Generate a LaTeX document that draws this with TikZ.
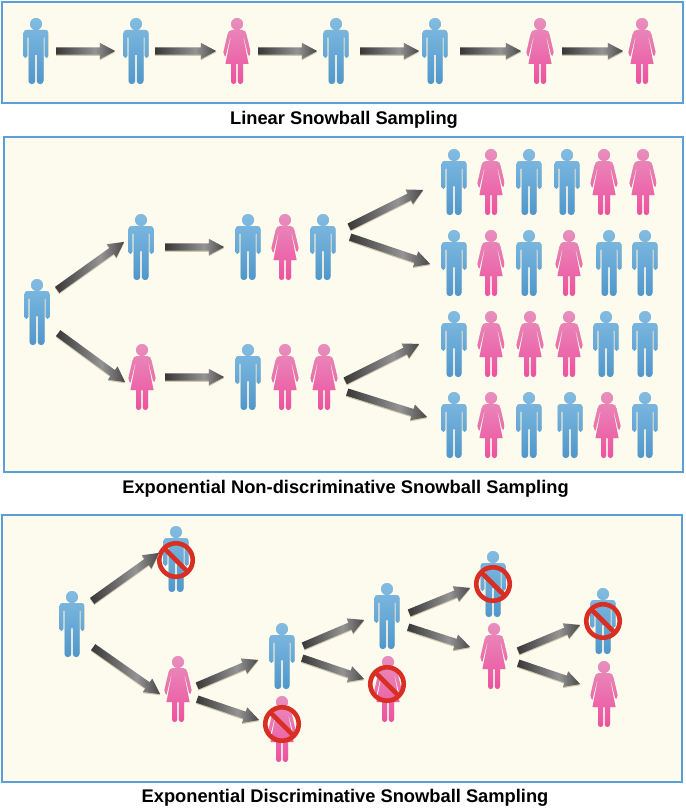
\documentclass[tikz,border=0pt]{standalone}
\usepackage{fontspec}
\setmainfont{Liberation Sans}
\usetikzlibrary{calc,shapes.arrows}

\definecolor{panelfill}{HTML}{FDFBEE}
\definecolor{panelline}{HTML}{5B9FD8}
\definecolor{mantop}{HTML}{82BCE2}
\definecolor{manbottom}{HTML}{4F97CC}
\definecolor{womantop}{HTML}{E88FBE}
\definecolor{womanbottom}{HTML}{EE519F}
\definecolor{figshadow}{HTML}{CFC8AC}
\definecolor{banred}{HTML}{D92E24}
\definecolor{flowdark}{HTML}{383838}
\definecolor{flowlight}{HTML}{949494}
\definecolor{flowtip}{HTML}{484848}

\pgfdeclarehorizontalshading{flowshade}{100bp}{color(0bp)=(flowdark); color(25bp)=(flowdark); color(58bp)=(flowlight); color(75bp)=(flowtip); color(100bp)=(flowtip)}

\def\manpath{(0,-27) circle[radius=6] (0,-21) [rounded corners=3] -- (12.5,-21) [rounded corners=1.9] -- (12.5,7) -- (8.7,7) [sharp corners] -- (8.7,-13.5) -- (7.5,-13.5) [rounded corners=3.2] -- (7.5,33) -- (0.8,33) [sharp corners] -- (0.8,4) -- (-0.8,4) [rounded corners=3.2] -- (-0.8,33) -- (-7.5,33) [sharp corners] -- (-7.5,-13.5) -- (-8.7,-13.5) [rounded corners=1.9] -- (-8.7,7) -- (-12.5,7) [rounded corners=3] -- (-12.5,-21) -- cycle}
\def\womanpath{(0,-27) circle[radius=6] (0,-21) [rounded corners=2] -- (7,-21) -- (9,-18.5) -- (14,3) -- (11.5,5.5) [sharp corners] -- (7,-13) -- (6.4,-13) -- (11.5,13) -- (6,13) [rounded corners=2.7] -- (6,33) -- (0.8,33) [sharp corners] -- (0.8,13) -- (-0.8,13) [rounded corners=2.7] -- (-0.8,33) -- (-6,33) [sharp corners] -- (-6,13) -- (-11.5,13) -- (-6.4,-13) -- (-7,-13) -- (-11.5,5.5) [rounded corners=2] -- (-14,3) -- (-9,-18.5) -- (-7,-21) -- cycle}

\begin{document}
\begin{tikzpicture}[x=1pt, y=-1pt,
    panel/.style={draw=panelline, fill=panelfill, line width=1.6pt},
    caption/.style={font=\bfseries\fontsize{18.3}{22}\selectfont, inner sep=0pt},
    man/.style={minimum width=32, minimum height=70, inner sep=0pt, path picture={
        \fill[figshadow, shift={(path picture bounding box.center)}, yshift=-1] \manpath;
        \shade[top color=mantop, bottom color=manbottom, shift={(path picture bounding box.center)}] \manpath;}},
    woman/.style={minimum width=32, minimum height=70, inner sep=0pt, path picture={
        \fill[figshadow, shift={(path picture bounding box.center)}, yshift=-1] \womanpath;
        \shade[top color=womantop, bottom color=womanbottom, shift={(path picture bounding box.center)}] \womanpath;}},
    ban/.style={circle, draw=banred, line width=4.6pt, minimum size=33.5, inner sep=0pt, path picture={
        \draw[banred, line width=4.6pt] (path picture bounding box.north west) -- (path picture bounding box.south east);}},
    flowbody/.style={single arrow, minimum width=16, single arrow head extend=4.5, single arrow tip angle=56, inner xsep=0pt, inner ysep=3.5pt,
        preaction={fill=figshadow, transform canvas={yshift=-1.2pt}}, shading=flowshade, shading angle=0},
    flow/.style 2 args={to path={let \p1=($(\tikztostart)+(#1)$), \p2=($(\tikztotarget)+(#2)$),
        \n1={atan2(\y2-\y1,\x2-\x1)}, \n2={veclen(\x2-\x1,\y2-\y1)} in
        (\p1) node[flowbody, anchor=tail, rotate=\n1, minimum height=\n2] (flowarrow) {}}}]
    \useasboundingbox (0,0) rectangle (685,808);

    \draw[panel] (2,2) rectangle (683,103);
    \draw[panel] (4,137) rectangle (683,472);
    \draw[panel] (2,515) rectangle (682,782);

    \node[caption] (titlelin) at (344,120) {Linear Snowball Sampling};
    \node[caption] (titlenon) at (345.5,489) {Exponential Non-discriminative Snowball Sampling};
    \node[caption] (titledis) at (345,798) {Exponential Discriminative Snowball Sampling};

    \node[man] (lin1) at (36,51) {};
    \node[man] (lin2) at (136,51) {};
    \node[woman] (lin3) at (237,51) {};
    \node[man] (lin4) at (336,51) {};
    \node[man] (lin5) at (435,51) {};
    \node[woman] (lin6) at (540,51) {};
    \node[woman] (lin7) at (642,51) {};

    \draw[flow={20,0}{-21,0}] (lin1) to (lin2);
    \draw[flow={19,0}{-21,0}] (lin2) to (lin3);
    \draw[flow={21,0}{-19,0}] (lin3) to (lin4);
    \draw[flow={24,0}{-16,0}] (lin4) to (lin5);
    \draw[flow={25,0}{-19,0}] (lin5) to (lin6);
    \draw[flow={22,0}{-19,0}] (lin6) to (lin7);

    \node[man] (non1) at (37,312) {};
    \node[man] (non2) at (141,247) {};
    \node[woman] (non3) at (142,377) {};
    \node[man] (non4) at (248,247) {};
    \node[woman] (non5) at (285,247) {};
    \node[man] (non6) at (323,247) {};
    \node[man] (non7) at (248,377) {};
    \node[woman] (non8) at (285,377) {};
    \node[woman] (non9) at (324,377) {};

    \node[man] (rowa1) at (454,182) {};
    \node[woman] (rowa2) at (491,182) {};
    \node[man] (rowa3) at (529,182) {};
    \node[man] (rowa4) at (567,182) {};
    \node[woman] (rowa5) at (604,182) {};
    \node[woman] (rowa6) at (643,182) {};
    \node[man] (rowb1) at (454,263) {};
    \node[woman] (rowb2) at (491,263) {};
    \node[man] (rowb3) at (529,263) {};
    \node[woman] (rowb4) at (569,263) {};
    \node[man] (rowb5) at (609,263) {};
    \node[man] (rowb6) at (645,263) {};
    \node[man] (rowc1) at (454,344) {};
    \node[woman] (rowc2) at (491,344) {};
    \node[woman] (rowc3) at (530,344) {};
    \node[woman] (rowc4) at (569,344) {};
    \node[man] (rowc5) at (606,344) {};
    \node[man] (rowc6) at (645,344) {};
    \node[man] (rowd1) at (454,425) {};
    \node[woman] (rowd2) at (491,425) {};
    \node[man] (rowd3) at (529,425) {};
    \node[man] (rowd4) at (570,425) {};
    \node[woman] (rowd5) at (607,425) {};
    \node[man] (rowd6) at (645,425) {};

    \draw[flow={20,-22}{-17,-5}] (non1) to (non2);
    \draw[flow={21,21}{-17,5}] (non1) to (non3);
    \draw[flow={24,0}{-24,0}] (non2) to (non4);
    \draw[flow={23,0}{-24,0}] (non3) to (non7);
    \draw[flow={26,-20}{-31,8}] (non6) to (rowa1);
    \draw[flow={27,-10}{-24,1}] (non6) to (rowb1);
    \draw[flow={21,4}{-35,0}] (non9) to (rowc1);
    \draw[flow={23,15}{-27,-8}] (non9) to (rowd1);

    \node[man] (dis1) at (72,624) {};
    \node[man] (dis2) at (176,559) {};
    \node[woman] (dis3) at (178,689) {};
    \node[man] (dis4) at (282,656) {};
    \node[woman] (dis5) at (282,729) {};
    \node[man] (dis6) at (387,616) {};
    \node[woman] (dis7) at (388,689) {};
    \node[man] (dis8) at (493,584) {};
    \node[woman] (dis9) at (494,656) {};
    \node[man] (dis10) at (603,621) {};
    \node[woman] (dis11) at (604,694) {};

    \node[ban] (ban2) at (176,560) {};
    \node[ban] (ban5) at (282,724) {};
    \node[ban] (ban7) at (387,684) {};
    \node[ban] (ban8) at (493,584) {};
    \node[ban] (ban10) at (603,621) {};

    \draw[flow={20,-23}{-17,-6}] (dis1) to (dis2);
    \draw[flow={21,23}{-18,5}] (dis1) to (dis3);
    \draw[flow={19,-3}{-24,4}] (dis3) to (dis4);
    \draw[flow={19,10}{-23,-9}] (dis3) to (dis5);
    \draw[flow={21,-10}{-23,4}] (dis4) to (dis6);
    \draw[flow={20,2}{-24,-10}] (dis4) to (dis7);
    \draw[flow={22,-3}{-23,4}] (dis6) to (dis8);
    \draw[flow={21,11}{-24,-9}] (dis6) to (dis9);
    \draw[flow={24,-5}{-23,4}] (dis9) to (dis10);
    \draw[flow={24,7}{-24,-10}] (dis9) to (dis11);
\end{tikzpicture}
\end{document}
